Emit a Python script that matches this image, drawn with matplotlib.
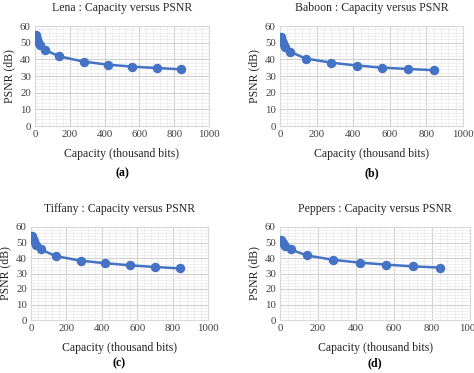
import numpy as np
import matplotlib.pyplot as plt
from matplotlib.ticker import MultipleLocator

plt.rcParams['font.family'] = ['Liberation Serif', 'DejaVu Serif']

# capacity (thousand bits) and PSNR (dB) per image
capacity = [5, 10, 15, 28, 56, 140, 280, 420, 560, 700, 840]
psnr_lena = [54.5, 52.5, 50.6, 48.6, 45.6, 41.8, 38.6, 36.8, 35.6, 34.8, 34.0]
psnr_baboon = [53.5, 51.0, 50.0, 47.5, 44.5, 40.5, 38.0, 36.3, 35.0, 34.2, 33.5]
psnr_tiffany = [54.0, 52.0, 51.0, 48.5, 45.5, 41.2, 38.3, 36.6, 35.3, 34.2, 33.3]
psnr_peppers = [51.5, 50.5, 49.5, 47.5, 45.5, 41.7, 38.8, 37.0, 35.7, 34.6, 33.8]

names = ['Lena', 'Baboon', 'Tiffany', 'Peppers']
series = [psnr_lena, psnr_baboon, psnr_tiffany, psnr_peppers]
tags = ['(a)', '(b)', '(c)', '(d)']
xtick_labels = ['0', '200', '400', '600', '800', '1000']

W, H = 474, 373
fig = plt.figure(figsize=(W / 100, H / 100), dpi=100)

# axes boxes in pixels: left, right, top, bottom
boxes = [(35, 209, 26, 126), (280, 463, 26, 126),
         (31, 208, 227, 320), (280, 470, 227, 320)]

blue = '#4472C4'
for name, y, tag, (l, r, t, b) in zip(names, series, tags, boxes):
    ax = fig.add_axes([l / W, 1 - b / H, (r - l) / W, (b - t) / H])
    ax.plot(capacity, y, color=blue, lw=1.8, marker='o', ms=5.8,
            markeredgecolor=blue, zorder=3)
    ax.set_xlim(0, 1000)
    ax.set_ylim(0, 60)
    ax.xaxis.set_minor_locator(MultipleLocator(40))
    ax.yaxis.set_major_locator(MultipleLocator(10))
    ax.yaxis.set_minor_locator(MultipleLocator(2))
    ax.set_xticks(range(0, 1001, 200), xtick_labels)
    ax.grid(which='major', color='#d0d0d0', lw=0.8)
    ax.grid(which='minor', color='#ececec', lw=0.6)
    ax.set_axisbelow(True)
    for s in ax.spines.values():
        s.set_color('#d9d9d9')
        s.set_linewidth(0.8)
    ax.tick_params(which='both', length=0, labelsize=7.8, pad=3,
                   labelcolor='#404040')
    ax.set_xlabel('Capacity (thousand bits)', fontsize=8.5, labelpad=6,
                  color='#262626')
    ax.set_ylabel('PSNR (dB)', fontsize=8.5, labelpad=3, color='#262626')
    ax.set_title(name + ' : Capacity versus PSNR', fontsize=8.5, pad=11,
                 color='#262626')
    ax.text(0.5, -0.47, tag, transform=ax.transAxes, ha='center',
            va='center', fontsize=8.5, fontweight='bold')

plt.savefig('out.png', dpi=100)
